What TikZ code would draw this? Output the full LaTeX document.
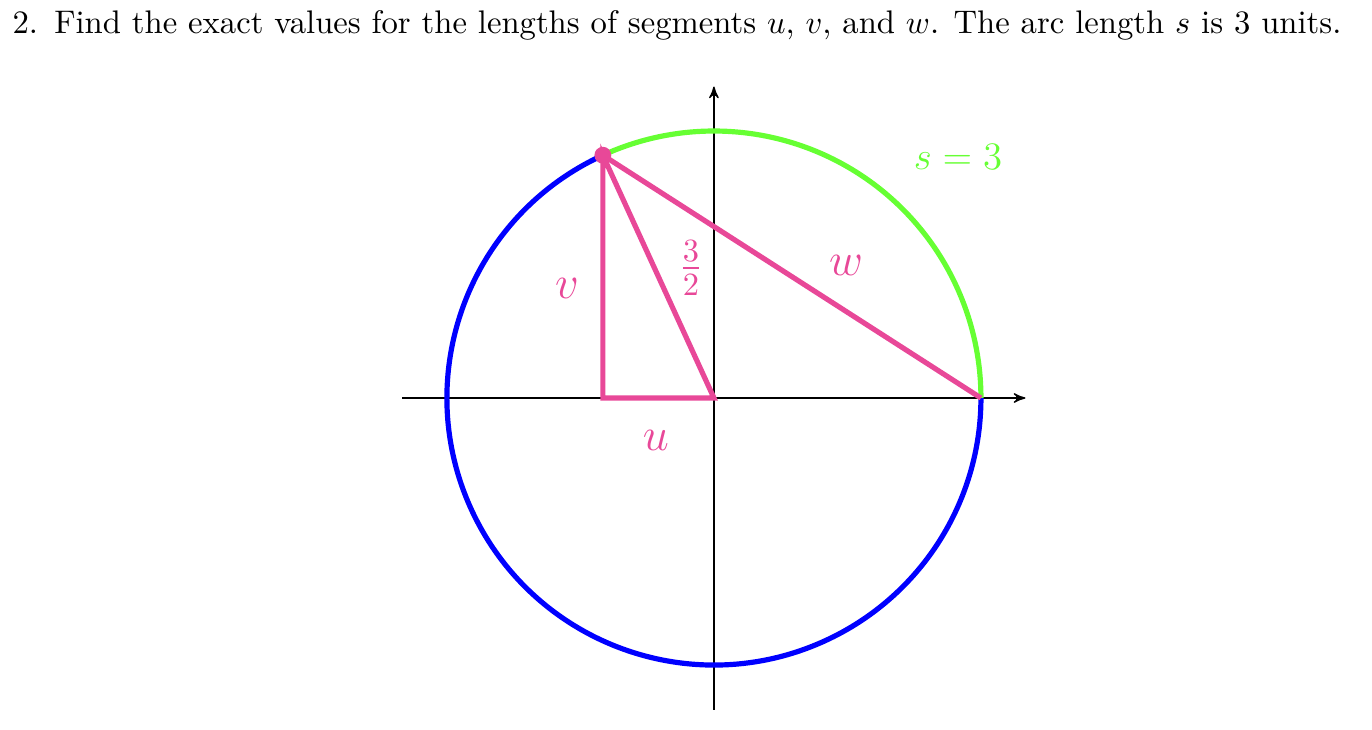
\documentclass[tikz,border=0pt]{standalone}
\usepackage{amssymb,amsmath}
\usepackage{tikz}
\usetikzlibrary{arrows}
\usepackage{color}
\definecolor{arcgreen}{RGB}{102,255,51}
\definecolor{segpink}{RGB}{232,72,152}

\begin{document}
\begin{tikzpicture}[x=1.93cm,y=1.93cm,>=stealth',thin]
  \tikzstyle{every node}=[font=\Large]
  \tikzstyle{ring}=[line width=1.6pt]
  \tikzstyle{seg}=[segpink,line width=1.6pt]
  \useasboundingbox (-4.011,-1.865) rectangle (3.697,2.236);

  \node[anchor=base west,font=\fontsize{10.08pt}{12pt}\selectfont,inner sep=0pt] (Q) at (-3.944,2.05)
    {2.\hspace{0.5em}Find the exact values for the lengths of segments $u$, $v$, and $w$. The arc length $s$ is 3 units.};

  \coordinate (O)  at (0,0);
  \coordinate (P)  at (114.59:1.5);
  \coordinate (F)  at (P |- O);
  \coordinate (R)  at (1.5,0);
  \coordinate (XL) at (-1.75,0);
  \coordinate (XR) at (1.75,0);
  \coordinate (YB) at (0,-1.75);
  \coordinate (YT) at (0,1.75);

  % axes
  \draw[->] (XL) -- (XR);
  \draw[->] (YB) -- (YT);

  % circle
  \draw[ring,blue] (P) arc[start angle=114.59,end angle=360,radius=1.5];
  \draw[ring,arcgreen] (R) arc[start angle=0,end angle=114.59,radius=1.5];

  % segments
  \draw[seg] (P) -- (F) -- (O) -- cycle;
  \draw[seg] (P) -- (R);
  \fill[segpink] (P) circle (2.6pt);

  \node[text=segpink]  (v) at (-0.826,0.618) {$v$};
  \node[text=segpink]  (h) at (-0.129,0.73)  {$\frac{3}{2}$};
  \node[text=segpink]  (w) at (0.742,0.747)  {$w$};
  \node[text=segpink]  (u) at (-0.326,-0.236) {$u$};
  \node[text=arcgreen,font=\large] (s) at (1.371,1.354) {$s = 3$};
\end{tikzpicture}
\end{document}
